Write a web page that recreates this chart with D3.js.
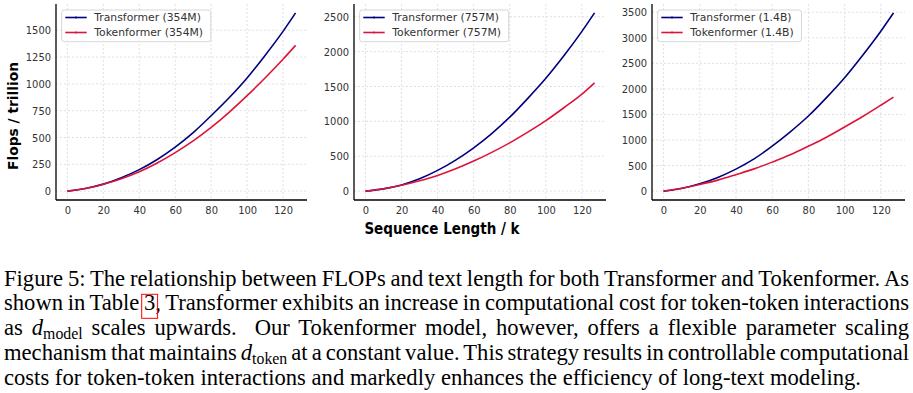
<!DOCTYPE html>
<html>
<head>
<meta charset="utf-8">
<script src="https://cdn.jsdelivr.net/npm/d3@7"></script>
<style>
  body { margin: 0; background: #fff; }
  svg { display: block; }
</style>
</head>
<body>
<svg id="chart" width="913" height="393"></svg>
<script>
// sequence length (k) where values were read
const seqLen = [0, 10, 20, 30, 40, 50, 60, 70, 80, 90, 100, 110, 120, 127];
const xTicks = [0, 20, 40, 60, 80, 100, 120];

// Flops / trillion
const transformer354M = [0, 24, 65, 125, 200, 295, 410, 545, 703, 870, 1055, 1265, 1490, 1662];
const tokenformer354M = [0, 24, 63, 115, 180, 262, 359, 468, 594, 735, 890, 1055, 1230, 1359];
const transformer757M = [0, 32, 88, 177, 297, 445, 621, 825, 1060, 1330, 1618, 1940, 2290, 2555];
const tokenformer757M = [0, 34, 83, 148, 225, 320, 430, 555, 692, 845, 1010, 1195, 1390, 1552];
const transformer14B = [0, 52, 143, 268, 430, 630, 880, 1160, 1470, 1830, 2220, 2660, 3130, 3488];
const tokenformer14B = [0, 57, 130, 215, 322, 435, 567, 710, 878, 1055, 1255, 1460, 1680, 1838];

const yTicks354M = [0, 250, 500, 750, 1000, 1250, 1500];
const yTicks757M = [0, 500, 1000, 1500, 2000, 2500];
const yTicks14B = [0, 500, 1000, 1500, 2000, 2500, 3000, 3500];

const modelSizes = ["354M", "757M", "1.4B"];

const captionLines = [
    [["Figure 5: The relationship between FLOPs and text length for both Transformer and Tokenformer. As"]],
    [["shown in Table "], ["3", "ref"], [", Transformer exhibits an increase in computational cost for token-token interactions"]],
    [["as "], ["d", "it"], ["model", "sub"], [" scales upwards.  Our Tokenformer model, however, offers a flexible parameter scaling"]],
    [["mechanism that maintains "], ["d", "it"], ["token", "sub"], [" at a constant value. This strategy results in controllable computational"]],
    [["costs for token-token interactions and markedly enhances the efficiency of long-text modeling."]]
];

const colors = { transformer: "#00007f", tokenformer: "#dc143c" };
const plotTop = 4, plotBottom = 200;
const sansFont = "'DejaVu Sans', sans-serif";

const panels = [
    { left: 56, right: 307, tr: transformer354M, tk: tokenformer354M, yTicks: yTicks354M },
    { left: 354, right: 606, tr: transformer757M, tk: tokenformer757M, yTicks: yTicks757M },
    { left: 652, right: 905, tr: transformer14B, tk: tokenformer14B, yTicks: yTicks14B }
];

// the reference glyphs are a bit narrow, squeeze text horizontally
const squeeze = (selection, factor) => {
    selection.each(function () {
        const w = this.getComputedTextLength();
        d3.select(this)
            .attr("textLength", w * factor)
            .attr("lengthAdjust", "spacingAndGlyphs");
    });
};

const svg = d3.select("#chart");

panels.forEach((p, i) => {
    const xMax = d3.max(seqLen);
    const x = d3.scaleLinear().domain([-0.05 * xMax, 1.05 * xMax]).range([p.left, p.right]);
    const yMax = d3.max(p.tr.concat(p.tk));
    const y = d3.scaleLinear().domain([-0.05 * yMax, 1.05 * yMax]).range([plotBottom, plotTop]);

    const g = svg.append("g");

    // grid
    g.selectAll("line.vgrid")
        .data(xTicks)
        .enter()
        .append("line")
        .attr("x1", d => x(d)).attr("x2", d => x(d))
        .attr("y1", plotTop).attr("y2", plotBottom)
        .style("stroke", "#d8d8d8").style("stroke-width", 0.8).style("stroke-dasharray", "2,2");
    g.selectAll("line.hgrid")
        .data(p.yTicks)
        .enter()
        .append("line")
        .attr("x1", p.left).attr("x2", p.right)
        .attr("y1", d => y(d)).attr("y2", d => y(d))
        .style("stroke", "#d8d8d8").style("stroke-width", 0.8).style("stroke-dasharray", "2,2");

    const line = d3.line()
        .x((d, j) => x(seqLen[j]))
        .y(d => y(d))
        .curve(d3.curveMonotoneX);

    g.append("path").datum(p.tr)
        .attr("d", line)
        .style("fill", "none").style("stroke", colors.transformer).style("stroke-width", 1.6);
    g.append("path").datum(p.tk)
        .attr("d", line)
        .style("fill", "none").style("stroke", colors.tokenformer).style("stroke-width", 1.6);

    // axes (labels only, no tick marks)
    const yAxis = g.append("g")
        .attr("transform", `translate(${p.left},0)`)
        .call(d3.axisLeft(y).tickValues(p.yTicks).tickFormat(d3.format("d")).tickSize(0).tickPadding(5));
    const xAxis = g.append("g")
        .attr("transform", `translate(0,${plotBottom})`)
        .call(d3.axisBottom(x).tickValues(xTicks).tickFormat(d3.format("d")).tickSize(0).tickPadding(6));
    [yAxis, xAxis].forEach(a => {
        a.select(".domain").remove();
        a.selectAll("text")
            .style("font-family", sansFont)
            .style("font-size", "11px")
            .style("fill", "#333")
            .call(squeeze, 0.9);
    });

    // spines
    g.append("line")
        .attr("x1", p.left).attr("x2", p.left).attr("y1", plotTop).attr("y2", plotBottom)
        .style("stroke", "#000").style("stroke-width", 1.3);
    g.append("line")
        .attr("x1", p.left).attr("x2", p.right).attr("y1", plotBottom).attr("y2", plotBottom)
        .style("stroke", "#000").style("stroke-width", 1.3);

    // legend
    const names = [`Transformer (${modelSizes[i]})`, `Tokenformer (${modelSizes[i]})`];
    const legendColors = [colors.transformer, colors.tokenformer];
    const leg = g.append("g");
    const box = leg.append("rect")
        .attr("x", p.left + 5.7).attr("y", 10)
        .attr("height", 31.7).attr("rx", 2.5)
        .style("fill", "#fff").style("fill-opacity", 0.85)
        .style("stroke", "#cccccc").style("stroke-width", 0.8);
    let maxW = 0;
    names.forEach((name, j) => {
        const ly = 17.5 + j * 15;
        leg.append("line")
            .attr("x1", p.left + 9.3).attr("x2", p.left + 30.7)
            .attr("y1", ly).attr("y2", ly)
            .style("stroke", legendColors[j]).style("stroke-width", 1.6);
        leg.append("circle")
            .attr("cx", p.left + 20).attr("cy", ly).attr("r", 1.1)
            .style("fill", legendColors[j]);
        const t = leg.append("text")
            .attr("x", p.left + 38.3).attr("y", ly + 3.9)
            .style("font-family", sansFont)
            .style("font-size", "10.8px")
            .style("fill", "#333")
            .text(name);
        maxW = Math.max(maxW, t.node().getComputedTextLength());
    });
    box.attr("width", 38.3 + maxW + 7.7 - 5.7);
});

// axis titles
svg.append("text")
    .attr("transform", "translate(17.5,116) rotate(-90)")
    .attr("text-anchor", "middle")
    .style("font-family", sansFont)
    .style("font-weight", "bold")
    .style("font-size", "13.8px")
    .style("fill", "#000")
    .text("Flops / trillion");
svg.append("text")
    .attr("x", 442).attr("y", 233.5)
    .attr("text-anchor", "middle")
    .style("font-family", sansFont)
    .style("font-weight", "bold")
    .style("font-size", "15px")
    .style("fill", "#000")
    .text("Sequence Length / k")
    .call(squeeze, 0.9);

// caption, each line stretched to its width by word spacing
const capLeft = 4, capRight = 909, lastRight = 861, capTop = 285.5, capStep = 24.8;
const capFont = 22.6;
captionLines.forEach((segs, li) => {
    const baseY = capTop + li * capStep;
    const t = svg.append("text")
        .attr("x", capLeft).attr("y", baseY)
        .style("font-family", "'Liberation Serif', 'Times New Roman', serif")
        .style("font-size", `${capFont}px`)
        .style("fill", "#000")
        .style("white-space", "pre");
    let refIndex = -1, charCount = 0;
    segs.forEach((s, k) => {
        const ts = t.append("tspan").text(s[0]);
        if (s[1] === "it") ts.style("font-style", "italic");
        if (s[1] === "sub") ts.style("font-size", `${capFont * 0.7}px`).attr("dy", 3.8);
        if (k > 0 && segs[k - 1][1] === "sub") ts.attr("dy", -3.8);
        if (s[1] === "ref") refIndex = charCount;
        charCount += s[0].length;
    });
    const target = (li < captionLines.length - 1 ? capRight : lastRight) - capLeft;
    const natural = t.node().getComputedTextLength();
    const spaces = segs.map(s => s[0]).join("").split(" ").length - 1;
    t.style("word-spacing", `${(target - natural) / spaces}px`);
    if (refIndex >= 0) {
        const ext = t.node().getExtentOfChar(refIndex);
        svg.append("rect")
            .attr("x", ext.x - 2.3).attr("y", baseY - 16)
            .attr("width", ext.width + 4.6).attr("height", 24)
            .style("fill", "none").style("stroke", "#ff0000").style("stroke-width", 1);
    }
});
</script>
</body>
</html>
